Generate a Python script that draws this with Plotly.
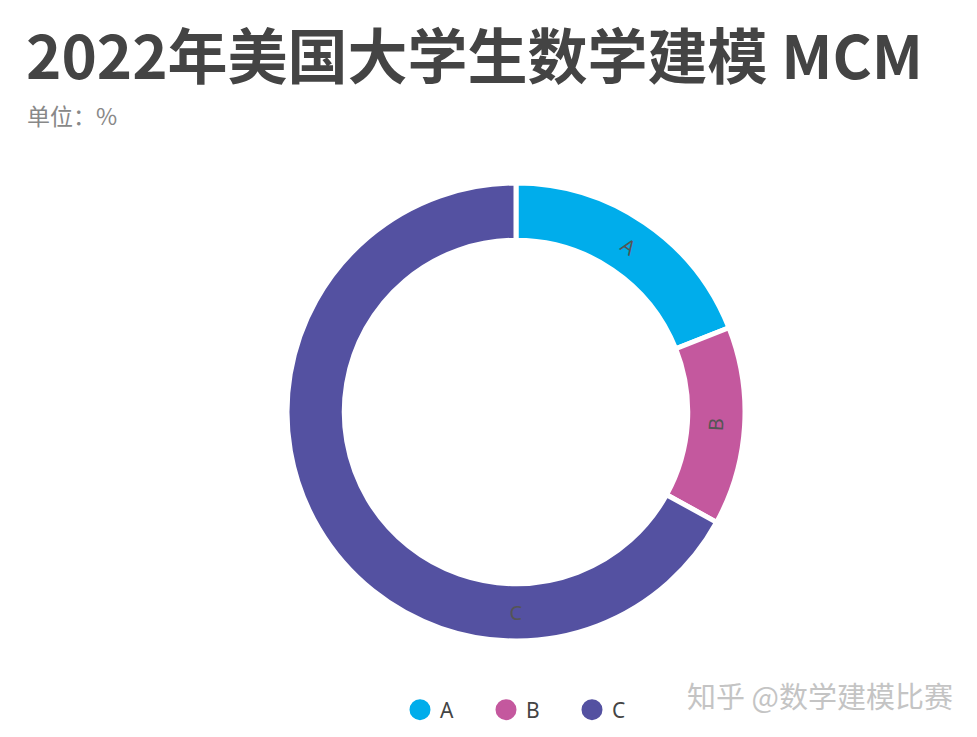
import plotly.graph_objects as go

# shares (percent)
labels = ["A", "B", "C"]
shares = [19, 14, 67]
colors = ["#00ADEB", "#C4589E", "#5451A1"]

TITLE = "2022年美国大学生数学建模 MCM"
SUBTITLE = "单位：%"
WATERMARK = "知乎 @数学建模比赛"

W, H = 977, 737
# pie box (tuned against the render)
cx, cy, r = 508, 404, 229

fig = go.Figure()

fig.add_trace(go.Pie(
    labels=labels,
    values=shares,
    hole=0.75,
    sort=False,
    direction="clockwise",
    rotation=0,
    marker=dict(colors=colors, line=dict(color="white", width=5)),
    textinfo="label",
    textposition="inside",
    insidetextorientation="tangential",
    textfont=dict(family="Noto Sans", size=20, color="#555555"),
    showlegend=False,
    domain=dict(x=[(cx - r) / W, (cx + r) / W], y=[1 - (cy + r) / H, 1 - (cy - r) / H]),
))

# legend entries with round markers
for lab, col in zip(labels, colors):
    fig.add_trace(go.Scatter(
        x=[None], y=[None], mode="markers", name=lab,
        marker=dict(symbol="circle", size=20, color=col, line=dict(color=col, width=5)),
    ))

fig.update_layout(
    width=W,
    height=H,
    margin=dict(l=0, r=0, t=0, b=0),
    paper_bgcolor="white",
    plot_bgcolor="white",
    font=dict(family="Noto Sans CJK SC, Noto Sans", color="#444444"),
    xaxis=dict(visible=False),
    yaxis=dict(visible=False),
    legend=dict(
        orientation="h",
        x=521 / W, xanchor="center",
        y=1 - 702 / H, yanchor="middle",
        font=dict(family="Noto Sans", size=21, color="#444444"),
        itemsizing="trace",
        itemwidth=30,
        entrywidth=41,
        entrywidthmode="pixels",
        traceorder="normal",
    ),
    annotations=[
        dict(text=f"<b>{TITLE}</b>", x=17 / W, y=1, xref="paper", yref="paper",
             xanchor="left", yanchor="top", showarrow=False, borderpad=0,
             font=dict(family="Noto Sans CJK SC", size=60, color="#444444")),
        dict(text=SUBTITLE, x=18 / W, y=1 - 107 / H, xref="paper", yref="paper",
             xanchor="left", yanchor="middle", showarrow=False, borderpad=0,
             font=dict(family="Noto Sans CJK SC", size=23, color="#888888")),
        dict(text=WATERMARK, x=812 / W, y=1 - 687 / H, xref="paper", yref="paper",
             xanchor="center", yanchor="middle", showarrow=False,
             font=dict(family="Noto Sans CJK SC", size=29, color="#c4c4c4")),
    ],
    shapes=[
        dict(type="line", xref="paper", yref="paper", x0=372 / W, x1=670 / W,
             y0=1 - 735 / H, y1=1 - 735 / H, line=dict(color="#eeeeee", width=3)),
    ],
)

fig.write_html("out.html")
